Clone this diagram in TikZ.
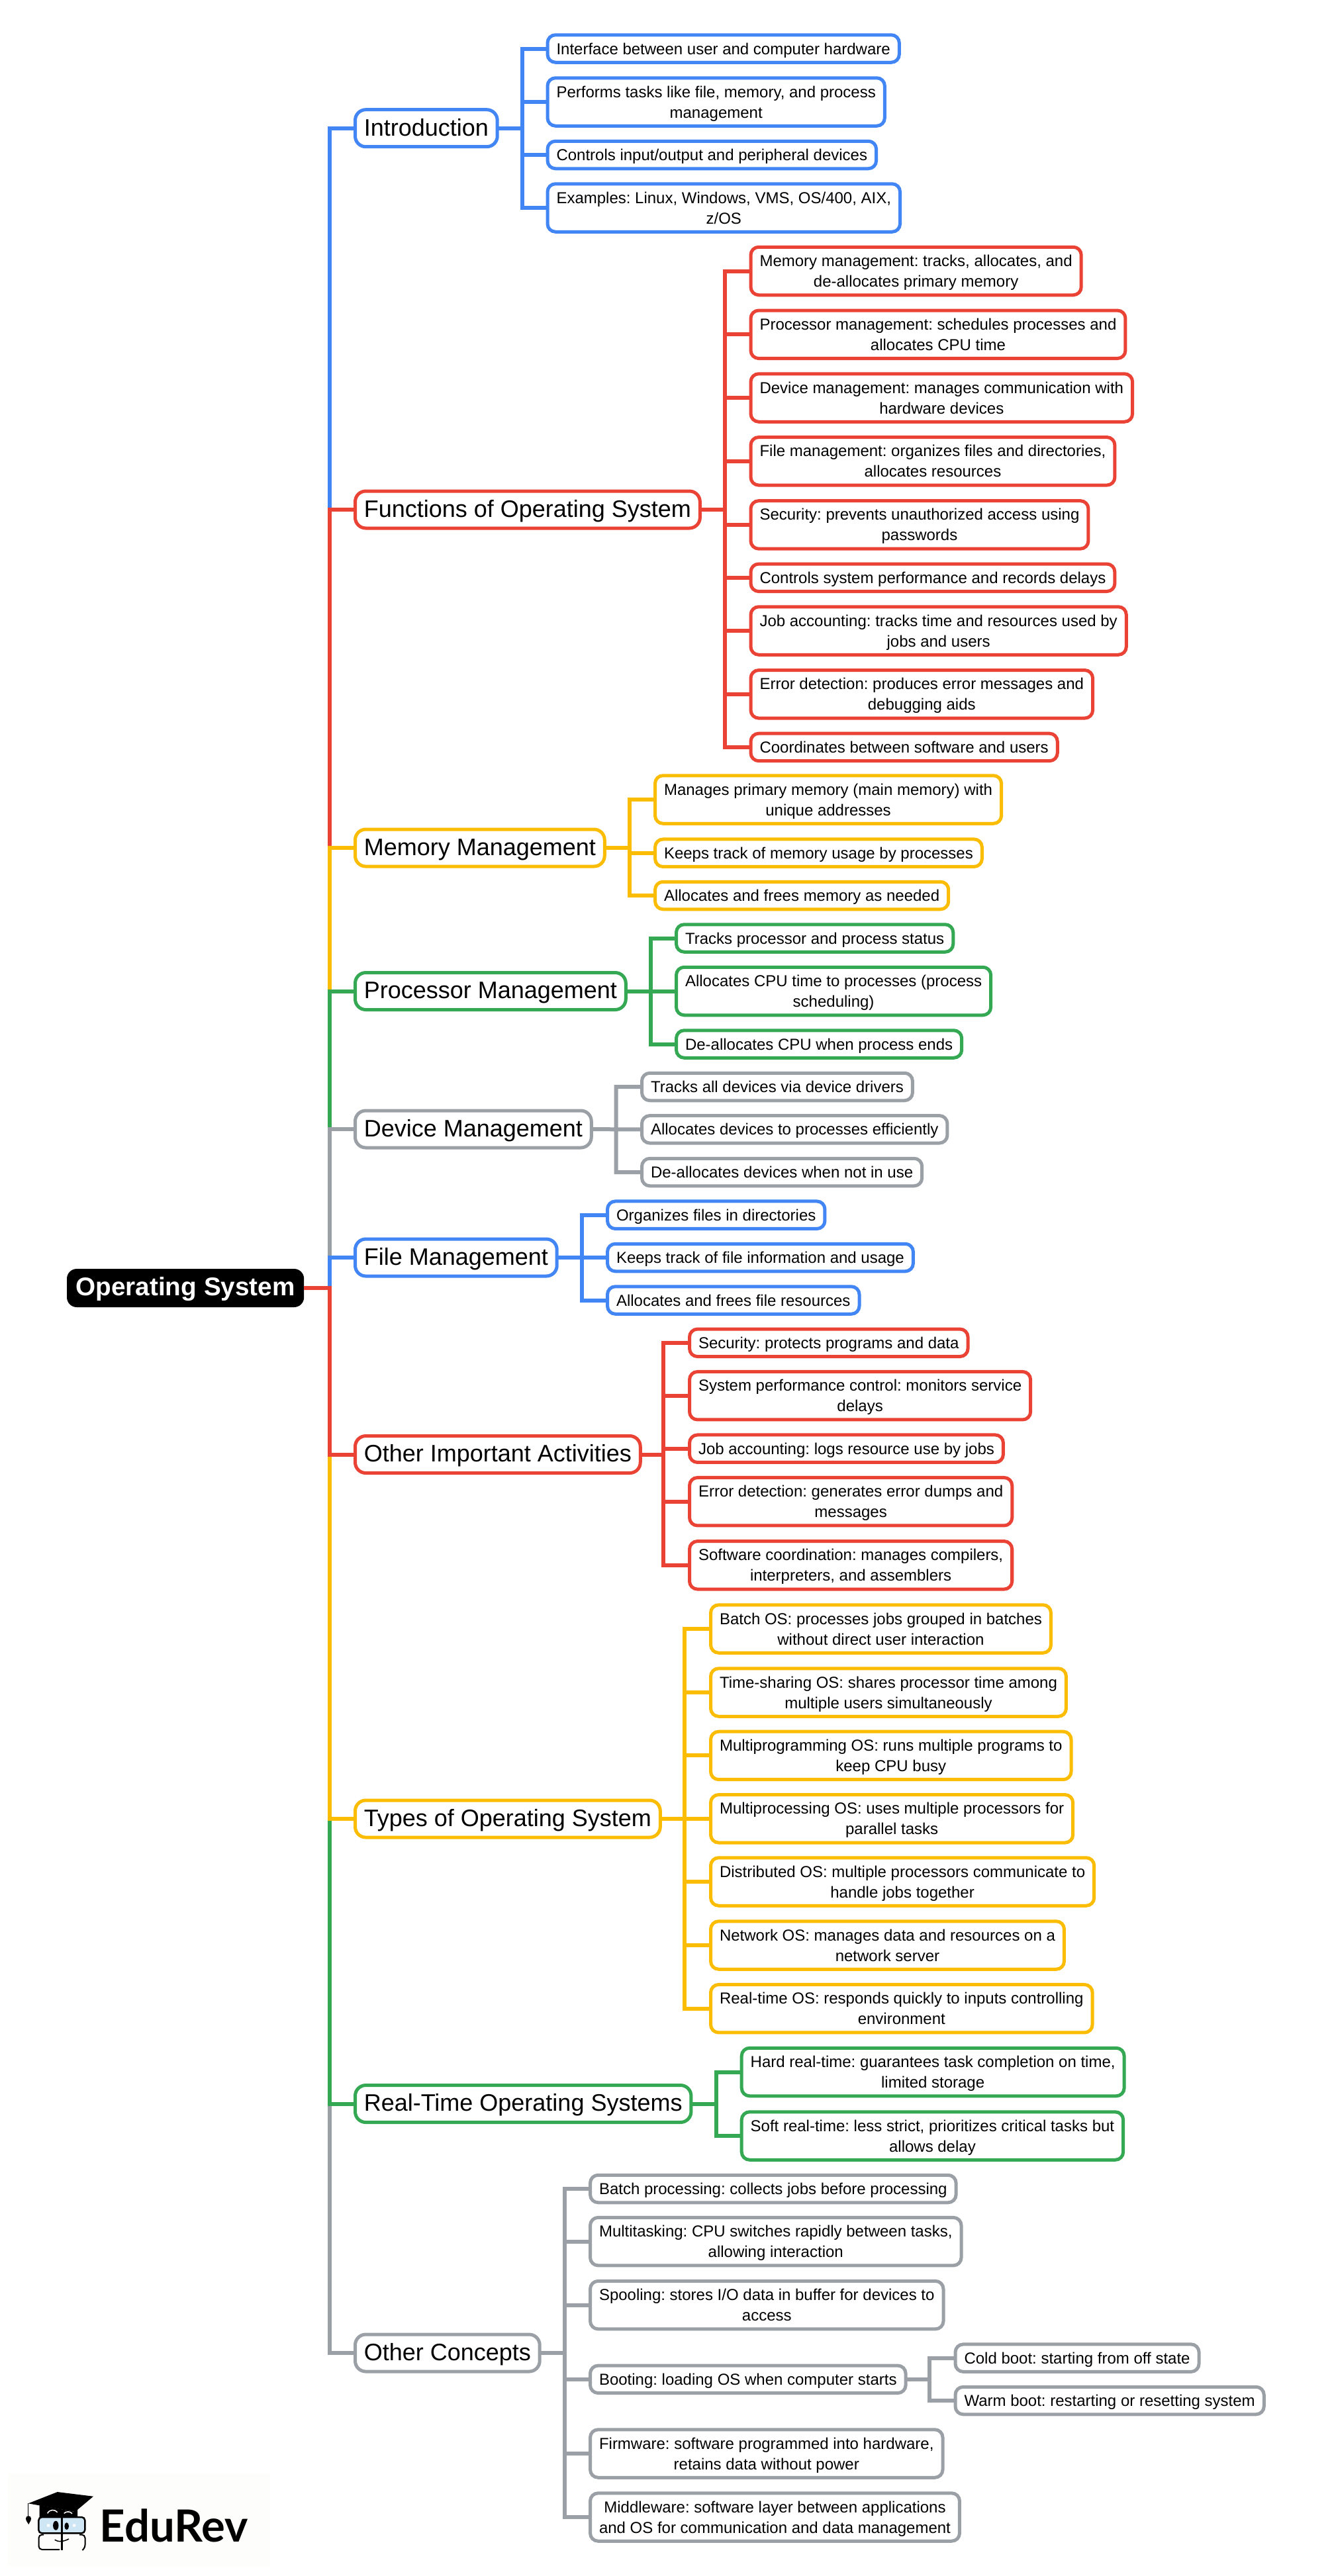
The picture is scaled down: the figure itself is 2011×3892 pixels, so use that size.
\documentclass[tikz,border=0pt]{standalone}
\usepackage{fontspec}
\setmainfont{Liberation Sans}
\newfontfamily\logofont{Lato}

\definecolor{opblue}{HTML}{4285F4}
\definecolor{opred}{HTML}{EA4335}
\definecolor{opyellow}{HTML}{FBBC04}
\definecolor{opgreen}{HTML}{34A853}
\definecolor{opgray}{HTML}{9AA0A6}
\definecolor{lens}{HTML}{CFE6F5}
\definecolor{logoback}{HTML}{FDFDFC}

\tikzset{
  rootbox/.style={fill=black,text=white,anchor=west,rounded corners=15pt,outer sep=0pt,inner xsep=13.5pt,inner ysep=0pt,minimum height=58pt,text height=31pt,text depth=7.6pt,font=\fontsize{38.7}{46}\selectfont\bfseries},
  branch/.style={draw=#1,fill=white,line width=5pt,anchor=west,xshift=2.5pt,rounded corners=16pt,outer sep=0pt,inner xsep=13.3pt,inner ysep=0pt,minimum height=56pt,text height=30pt,text depth=7.4pt,font=\fontsize{36}{44}\selectfont},
  leaf/.style={draw=#1,fill=white,line width=5pt,anchor=west,xshift=2.5pt,rounded corners=12pt,outer sep=0pt,inner xsep=13.5pt,inner ysep=0pt,minimum height=41.5pt,text height=22pt,text depth=5pt,font=\fontsize{24}{31}\selectfont},
  leaftwo/.style={leaf=#1,align=center,minimum height=72.5pt,text height=53pt,text depth=5pt},
  link/.style={draw=#1,line width=6pt},
}

\begin{document}
\frenchspacing
\begin{tikzpicture}[x=1pt,y=-1pt]

\useasboundingbox (0,0) rectangle (2011,3892);
\fill [white] (0,0) rectangle (2011,3892);

\node [rootbox] (root) at (101,1946) {Operating System};
\coordinate (trunk) at (498,1946);

\node [branch=opblue] (intro) at (534,193.7) {Introduction};
\node [branch=opred] (func) at (534,770) {Functions of Operating System};
\node [branch=opyellow] (mem) at (534,1281) {Memory Management};
\node [branch=opgreen] (proc) at (534,1497.5) {Processor Management};
\node [branch=opgray] (dev) at (534,1706) {Device Management};
\node [branch=opblue] (file) at (534,1900) {File Management};
\node [branch=opred] (other) at (534,2197.5) {Other Important Activities};
\node [branch=opyellow] (types) at (534,2748) {Types of Operating System};
\node [branch=opgreen] (real) at (534,3178.5) {Real-Time Operating Systems};
\node [branch=opgray] (conc) at (534,3555) {Other Concepts};

\draw [link=opblue] (root.east) -- (trunk) |- (intro.west);
\draw [link=opgray] (root.east) -- (trunk) |- (conc.west);
\draw [link=opred] (root.east) -- (trunk) |- (func.west);
\draw [link=opgreen] (root.east) -- (trunk) |- (real.west);
\draw [link=opyellow] (root.east) -- (trunk) |- (mem.west);
\draw [link=opyellow] (root.east) -- (trunk) |- (types.west);
\draw [link=opgreen] (root.east) -- (trunk) |- (proc.west);
\draw [link=opgray] (root.east) -- (trunk) |- (dev.west);
\draw [link=opblue] (root.east) -- (trunk) |- (file.west);
\draw [link=opred] (root.east) -- (trunk) |- (other.west);

\node [leaf=opblue] (intro1) at (824.5,73.5) {Interface between user and computer hardware};
\node [leaftwo=opblue] (intro2) at (824.5,154) {Performs tasks like file, memory, and process\\management};
\node [leaf=opblue] (intro3) at (824.5,234) {Controls input/output and peripheral devices};
\node [leaftwo=opblue] (intro4) at (824.5,314) {Examples: Linux, Windows, VMS, OS/400, AIX,\\z/OS};
\coordinate (introbus) at (789,193.7);
\draw [link=opblue] (intro.east) -- (introbus) (introbus) |- (intro1.west) (introbus) |- (intro2.west) (introbus) |- (intro3.west) (introbus) |- (intro4.west);

\node [leaftwo=opred] (func1) at (1131.5,409.5) {Memory management: tracks, allocates, and\\de-allocates primary memory};
\node [leaftwo=opred] (func2) at (1131.5,505.3) {Processor management: schedules processes and\\allocates CPU time};
\node [leaftwo=opred] (func3) at (1131.5,601) {Device management: manages communication with\\hardware devices};
\node [leaftwo=opred] (func4) at (1131.5,696.8) {File management: organizes files and directories,\\allocates resources};
\node [leaftwo=opred] (func5) at (1131.5,792.9) {Security: prevents unauthorized access using\\passwords};
\node [leaf=opred] (func6) at (1131.5,872.8) {Controls system performance and records delays};
\node [leaftwo=opred] (func7) at (1131.5,953) {Job accounting: tracks time and resources used by\\jobs and users};
\node [leaftwo=opred] (func8) at (1131.5,1048.8) {Error detection: produces error messages and\\debugging aids};
\node [leaf=opred] (func9) at (1131.5,1128.9) {Coordinates between software and users};
\coordinate (funcbus) at (1095,770);
\draw [link=opred] (func.east) -- (funcbus) (funcbus) |- (func1.west) (funcbus) |- (func2.west) (funcbus) |- (func3.west) (funcbus) |- (func4.west) (funcbus) |- (func5.west) (funcbus) |- (func6.west) (funcbus) |- (func7.west) (funcbus) |- (func8.west) (funcbus) |- (func9.west);

\node [leaftwo=opyellow] (mem1) at (987,1208) {Manages primary memory (main memory) with\\unique addresses};
\node [leaf=opyellow] (mem2) at (987,1288.7) {Keeps track of memory usage by processes};
\node [leaf=opyellow] (mem3) at (987,1353) {Allocates and frees memory as needed};
\coordinate (membus) at (951,1281);
\draw [link=opyellow] (mem.east) -- (membus) (membus) |- (mem1.west) (membus) |- (mem2.west) (membus) |- (mem3.west);

\node [leaf=opgreen] (proc1) at (1019,1417.5) {Tracks processor and process status};
\node [leaftwo=opgreen] (proc2) at (1019,1497.5) {Allocates CPU time to processes (process\\scheduling)};
\node [leaf=opgreen] (proc3) at (1019,1577.5) {De-allocates CPU when process ends};
\coordinate (procbus) at (982.5,1497.5);
\draw [link=opgreen] (proc.east) -- (procbus) (procbus) |- (proc1.west) (procbus) |- (proc2.west) (procbus) |- (proc3.west);

\node [leaf=opgray] (dev1) at (967,1642) {Tracks all devices via device drivers};
\node [leaf=opgray] (dev2) at (967,1706.3) {Allocates devices to processes efficiently};
\node [leaf=opgray] (dev3) at (967,1771) {De-allocates devices when not in use};
\coordinate (devbus) at (930.5,1706.3);
\draw [link=opgray] (dev.east) -- (devbus) (devbus) |- (dev1.west) (devbus) |- (dev2.west) (devbus) |- (dev3.west);

\node [leaf=opblue] (file1) at (915,1835.7) {Organizes files in directories};
\node [leaf=opblue] (file2) at (915,1900) {Keeps track of file information and usage};
\node [leaf=opblue] (file3) at (915,1964.5) {Allocates and frees file resources};
\coordinate (filebus) at (879,1900);
\draw [link=opblue] (file.east) -- (filebus) (filebus) |- (file1.west) (filebus) |- (file2.west) (filebus) |- (file3.west);

\node [leaf=opred] (other1) at (1039,2028.8) {Security: protects programs and data};
\node [leaftwo=opred] (other2) at (1039,2108.7) {System performance control: monitors service\\delays};
\node [leaf=opred] (other3) at (1039,2188.7) {Job accounting: logs resource use by jobs};
\node [leaftwo=opred] (other4) at (1039,2268.7) {Error detection: generates error dumps and\\messages};
\node [leaftwo=opred] (other5) at (1039,2364.8) {Software coordination: manages compilers,\\interpreters, and assemblers};
\coordinate (otherbus) at (1001.5,2197.5);
\draw [link=opred] (other.east) -- (otherbus) (otherbus) |- (other1.west) (otherbus) |- (other2.west) (otherbus) |- (other3.west) (otherbus) |- (other4.west) (otherbus) |- (other5.west);

\node [leaftwo=opyellow] (types1) at (1071,2461) {Batch OS: processes jobs grouped in batches\\without direct user interaction};
\node [leaftwo=opyellow] (types2) at (1071,2557) {Time-sharing OS: shares processor time among\\multiple users simultaneously};
\node [leaftwo=opyellow] (types3) at (1071,2652.4) {Multiprogramming OS: runs multiple programs to\\keep CPU busy};
\node [leaftwo=opyellow] (types4) at (1071,2747.8) {Multiprocessing OS: uses multiple processors for\\parallel tasks};
\node [leaftwo=opyellow] (types5) at (1071,2843) {Distributed OS: multiple processors communicate to\\handle jobs together};
\node [leaftwo=opyellow] (types6) at (1071,2939) {Network OS: manages data and resources on a\\network server};
\node [leaftwo=opyellow] (types7) at (1071,3034.7) {Real-time OS: responds quickly to inputs controlling\\environment};
\coordinate (typesbus) at (1034,2748);
\draw [link=opyellow] (types.east) -- (typesbus) (typesbus) |- (types1.west) (typesbus) |- (types2.west) (typesbus) |- (types3.west) (typesbus) |- (types4.west) (typesbus) |- (types5.west) (typesbus) |- (types6.west) (typesbus) |- (types7.west);

\node [leaftwo=opgreen] (real1) at (1117.7,3130.5) {Hard real-time: guarantees task completion on time,\\limited storage};
\node [leaftwo=opgreen] (real2) at (1117.7,3227) {Soft real-time: less strict, prioritizes critical tasks but\\allows delay};
\coordinate (realbus) at (1081.5,3178.5);
\draw [link=opgreen] (real.east) -- (realbus) (realbus) |- (real1.west) (realbus) |- (real2.west);

\node [leaf=opgray] (conc1) at (889,3307) {Batch processing: collects jobs before processing};
\node [leaftwo=opgray] (conc2) at (889,3386.6) {Multitasking: CPU switches rapidly between tasks,\\allowing interaction};
\node [leaftwo=opgray] (conc3) at (889,3482.6) {Spooling: stores I/O data in buffer for devices to\\access};
\node [leaf=opgray] (conc4) at (889,3594.8) {Booting: loading OS when computer starts};
\node [leaftwo=opgray] (conc5) at (889,3707) {Firmware: software programmed into hardware,\\retains data without power};
\node [leaftwo=opgray] (conc6) at (889,3803) {Middleware: software layer between applications\\and OS for communication and data management};
\coordinate (concbus) at (852.5,3555);
\draw [link=opgray] (conc.east) -- (concbus) (concbus) |- (conc1.west) (concbus) |- (conc2.west) (concbus) |- (conc3.west) (concbus) |- (conc4.west) (concbus) |- (conc5.west) (concbus) |- (conc6.west);

\node [leaf=opgray] (boot1) at (1440.5,3562.6) {Cold boot: starting from off state};
\node [leaf=opgray] (boot2) at (1440.5,3627) {Warm boot: restarting or resetting system};
\coordinate (bootbus) at (1403.8,3594.8);
\draw [link=opgray] (conc4.east) -- (bootbus) (bootbus) |- (boot1.west) (bootbus) |- (boot2.west);

\fill [logoback] (12,3737) rectangle (408,3878);
\fill (42.7,3782.3) -- (86.7,3765) -- (141,3771.7) -- (113.3,3795) -- cycle;
\fill (59.5,3785) -- (59.5,3803) -- (117,3803) -- (117,3786) -- (113.3,3795) -- cycle;
\draw [white,line width=1.5pt] (71.7,3797.3) .. controls (75,3791) and (83,3791) .. (86.7,3795.7);
\draw [white,line width=1.5pt] (96.7,3797.3) .. controls (100,3794) and (106,3794) .. (109,3797.7);
\draw [line width=1.5pt] (42.7,3782) -- (42.7,3802);
\fill (39,3805) .. controls (39,3800) and (47,3800) .. (47,3805) .. controls (47,3809) and (44,3811) .. (43.3,3814) .. controls (42,3811) and (39,3809) .. (39,3805);
\draw [fill=lens,line width=2.5pt,rounded corners=5pt] (58.3,3803) rectangle (128.3,3827.3);
\draw [line width=2.5pt] (93.3,3801) -- (93.3,3853);
\draw [line width=2pt,rounded corners=5pt] (90,3852) -- (58.5,3852) -- (58.5,3829.5) -- (66,3829.5);
\draw [line width=2pt,rounded corners=5pt] (120,3829.5) -- (128.5,3829.5) -- (128.5,3850) -- (125,3852.5);
\fill (84.3,3815.7) ellipse [x radius=4.2,y radius=7];
\fill (100.7,3816.7) ellipse [x radius=3.3,y radius=5.5];
\fill [white] (71,3813.5) rectangle (75,3817.5) (110,3813.5) rectangle (114,3817.5);
\draw [line width=1.5pt] (82.7,3837.3) .. controls (88,3841) and (96,3840) .. (104,3836);
\node [anchor=base west,inner sep=0pt,font=\fontsize{67}{70}\logofont\bfseries] (logo) at (150.5,3840) {EduRev};

\end{tikzpicture}
\end{document}
